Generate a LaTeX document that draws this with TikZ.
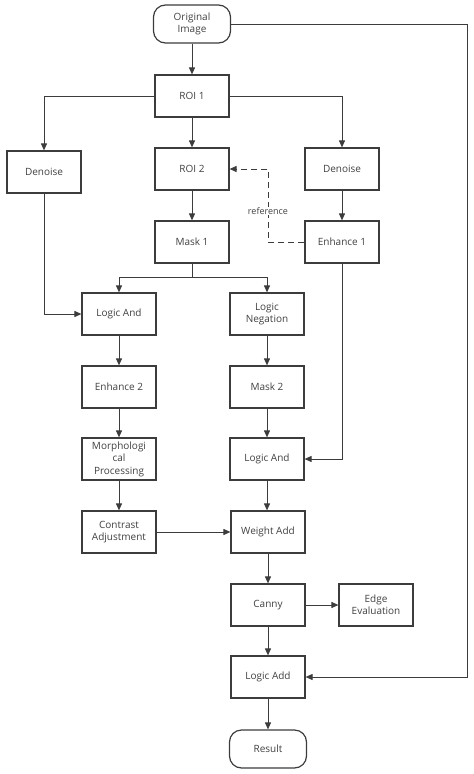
\documentclass[tikz,border=0pt]{standalone}
\usepackage{fontspec}
\setmainfont{Open Sans}
\usepackage{tikz}
\usetikzlibrary{arrows.meta}
\definecolor{linegray}{HTML}{3C3C3C}
\definecolor{textgray}{HTML}{404040}
\tikzset{
  stepbox/.style={draw=linegray, line width=1.2pt, minimum width=74pt, minimum height=42pt,
    align=center, text=textgray, font=\fontsize{10}{12.4}\selectfont, inner sep=1pt},
  termbox/.style={stepbox, minimum width=77pt, minimum height=38pt, rounded corners=12pt},
  flow/.style={draw=linegray, line width=1pt, -{Triangle[length=7pt,width=6pt]}}
}
\begin{document}
\begin{tikzpicture}[x=1pt, y=-1pt]
  \useasboundingbox (0,0) rectangle (474,774);
  % Nodes
  \node[termbox] (orig) at (192,24) {Original\\Image};
  \node[stepbox] (roi1) at (192,96) {ROI 1};
  \node[stepbox] (denL) at (44,172) {Denoise};
  \node[stepbox] (roi2) at (192,169) {ROI 2};
  \node[stepbox] (denR) at (342,169) {Denoise};
  \node[stepbox] (mask1) at (192,242) {Mask 1};
  \node[stepbox] (enh1) at (342,242) {Enhance 1};
  \node[stepbox] (andL) at (119,314) {Logic And};
  \node[stepbox] (neg) at (267,314) {Logic\\Negation};
  \node[stepbox] (enh2) at (119,387) {Enhance 2};
  \node[stepbox] (mask2) at (267,387) {Mask 2};
  \node[stepbox] (morph) at (119,459) {Morphologi\\cal\\Processing};
  \node[stepbox] (andR) at (267,459) {Logic And};
  \node[stepbox] (contr) at (119,532) {Contrast\\Adjustment};
  \node[stepbox] (wadd) at (268,532) {Weight Add};
  \node[stepbox] (canny) at (268,605) {Canny};
  \node[stepbox] (edge) at (376,605) {Edge\\Evaluation};
  \node[stepbox] (ladd) at (268,677) {Logic Add};
  \node[termbox] (res) at (268,749) {Result};
  % Bend points
  \coordinate (refx) at (268,211);
  \coordinate (split) at (192,277);
  \coordinate (rt) at (467,24);
  % Connectors
  \draw[flow] (orig) -- (roi1);
  \draw[flow] (roi1.west) -| (denL.north);
  \draw[flow] (roi1) -- (roi2);
  \draw[flow] (roi1.east) -| (denR.north);
  \draw[flow] (roi2) -- (mask1);
  \draw[flow] (denR) -- (enh1);
  \draw[flow, dash pattern=on 6pt off 4pt] (enh1.west) -| (refx) |- (roi2.east);
    \node[fill=white, text=textgray, font=\fontsize{9}{11}\selectfont, inner sep=1pt] (reflbl) at (refx) {reference};
  \draw[draw=linegray, line width=1pt] (mask1) -- (split);
  \draw[flow] (split) -| (andL.north);
  \draw[flow] (split) -| (neg.north);
  \draw[flow] (denL.south) |- (andL.west);
  \draw[flow] (andL) -- (enh2);
  \draw[flow] (enh2) -- (morph);
  \draw[flow] (morph) -- (contr);
  \draw[flow] (neg) -- (mask2);
  \draw[flow] (mask2) -- (andR);
  \draw[flow] (enh1.south) |- (andR.east);
  \draw[flow] (andR.south) -- (andR.south |- wadd.north);
  \draw[flow] (contr) -- (wadd);
  \draw[flow] (wadd) -- (canny);
  \draw[flow] (canny) -- (edge);
  \draw[flow] (canny) -- (ladd);
  \draw[flow] (ladd) -- (res);
  \draw[flow] (orig.east) -- (rt) |- (ladd.east);
\end{tikzpicture}
\end{document}
